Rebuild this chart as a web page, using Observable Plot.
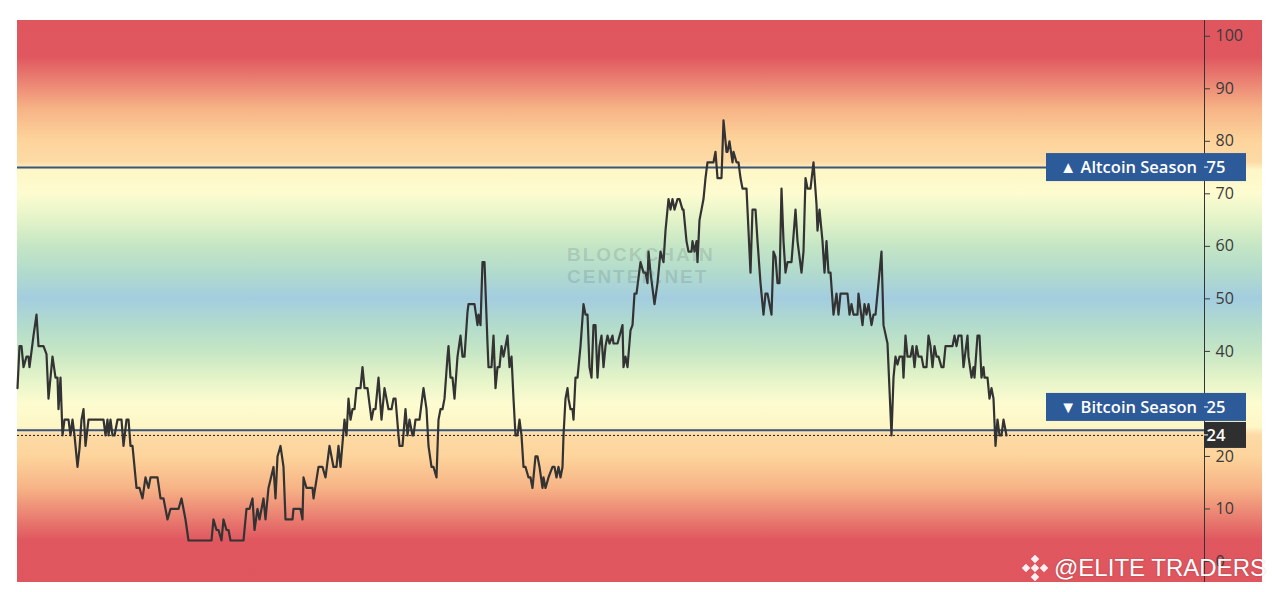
<!DOCTYPE html>
<html>
<head>
<meta charset="utf-8">
<script src="https://cdn.jsdelivr.net/npm/d3@7"></script>
<script src="https://cdn.jsdelivr.net/npm/@observablehq/plot@0.6"></script>
<style>
  html, body { margin: 0; padding: 0; background: #fff; }
  #wrap { position: relative; width: 1272px; height: 592px; overflow: hidden; }
  .wm { position: absolute; left: 567px; font: 700 19px "Liberation Sans", Arial, sans-serif; color: rgba(80, 100, 105, 0.2); line-height: 20px; letter-spacing: 2px; pointer-events: none; white-space: nowrap; }
  #elite { position: absolute; left: 1020px; top: 553px; display: flex; align-items: center; white-space: nowrap; pointer-events: none; }
  #elite span { font: 400 24px "Liberation Sans", Arial, sans-serif; color: #fff; text-shadow: 0 0 2px rgba(0,0,0,0.25); margin-left: 4px; }
</style>
</head>
<body>
<div id="wrap">
  <div id="chart"></div>
  <div class="wm" style="top:245px">BLOCKCHAIN</div>
  <div class="wm" style="top:267px">CENTER.NET</div>
  <div id="elite">
    <svg width="30" height="30" viewBox="0 0 30 30">
      <g fill="#fff" opacity="0.92">
        <rect x="12" y="12" width="6" height="6" transform="rotate(45 15 15)"/>
        <rect x="12" y="3" width="6" height="6" transform="rotate(45 15 6)"/>
        <rect x="12" y="21" width="6" height="6" transform="rotate(45 15 24)"/>
        <rect x="3" y="12" width="6" height="6" transform="rotate(45 6 15)"/>
        <rect x="21" y="12" width="6" height="6" transform="rotate(45 24 15)"/>
      </g>
    </svg>
    <span>@ELITE TRADERS</span>
  </div>
</div>
<script>
// Altcoin season index readings: [day index, value]
const readings = [
[0,33],[1,41],[2,41],[3,37],[4.5,39],[5.5,39],[6,37],[7.5,41.5],[8,43],[9.5,47],
[10.5,41],[13,41],[14.5,39.5],[15.5,31],[17.5,39],[19,35],[20,35],[20.5,29],[21.5,35],[22.5,24],
[23.5,27],[25.5,27],[26.5,24],[27.5,27],[28.5,24],[30,18],[31,21.5],[32,27],[33,29],[34,22],
[35.5,27],[43,27],[44,24],[45,27],[45.5,24],[46.5,27],[47.5,24],[48.5,24],[50,27],[52,27],
[53,22],[54.5,27],[55.5,27],[56.5,22],[57.5,22],[59.5,14],[61,14],[62.5,12],[64,16],[65.5,14],
[66.5,16],[70,16],[71.5,12],[73,12],[75,8],[76.5,10],[80.5,10],[82,12],[83,10],[84,8],
[85.5,4],[97,4],[98,8],[99.5,6],[100.5,6],[102,4],[103,8],[104.5,6],[105.5,6],[106.5,4],
[113,4],[114.5,10],[116,10],[117.5,12],[118.5,6],[120,10],[121,8],[123,12],[124,8],[125.5,14],
[128,18],[129,12],[130,20],[131.5,22],[133,18],[134,8],[137.5,8],[138,10],[141.5,10],[142.5,8],
[143,16],[144.5,14],[147.5,14],[148,12],[150.5,18],[152.5,18],[154,16],[156,22],[158,18],[159.5,18],
[160.5,22],[161.5,18],[163.5,27],[164.5,24],[165.5,31],[166.5,27],[167.5,29],[168.5,29],[169.5,33],[171.5,33],
[172.5,37],[173.5,33],[175,33],[177,27],[178,29],[179,29],[180.5,35],[182,27],[183.5,33],[185.5,29],
[187,29],[188,31],[189,31],[190.5,24],[191,22],[192.5,22],[194,29],[195,24],[196,27],[197.5,24],
[198,24],[199,27],[201,27],[203,33],[204.5,29],[205.5,22],[207,18],[208,18],[209.5,16],[210.5,27],
[211.5,29],[212.5,29],[213.5,31],[215,39],[215.5,41],[216.5,35],[217.5,35],[218.5,31],[220,39],[221.5,43],
[222.5,39],[223.5,39],[225,47.5],[225.5,49],[228.5,49],[230,45],[230.5,47],[231.5,45],[232.5,57],[233.5,57],
[235,41.5],[235.5,37],[237,37],[238,43],[239,33],[240,37],[241,37],[242,41],[243,39],[244,41],
[245,43],[246,37],[247,39],[248,31],[249,24],[250,24],[251,27],[252,24],[253,18],[254,18],
[255.5,16],[256.5,16],[257.5,14],[259,20],[260,20],[261,18],[262.5,14],[263,16],[264,14],[265.5,16],
[267.5,18],[268.5,18],[269.5,16],[270.5,18],[271.5,16],[272.5,18],[273,24],[274,31],[275,33],[275.5,31],
[276.5,29],[277.5,29],[278,27],[279,35],[280,35],[281.5,41],[283,49],[284,47],[285,47],[286,37],
[287,35],[288,45],[289,45],[290,35],[291,41],[292,43],[293,37],[294,41],[295,43],[296,41.5],
[297.5,43],[298,41.5],[300,41.5],[302.5,45],[303,37],[304,39],[305,37],[306.5,44],[307.5,45],[308.5,51],
[309.5,51],[311.5,57],[313,55],[314,55],[315,53],[315.5,59],[316.5,55],[318.5,49],[320,53],[321.5,59],
[323,57],[324,63],[325.5,69],[326.5,67],[327.5,69],[328.5,67],[330,69],[331,69],[332.5,67],[333,67],
[334.5,61],[335.5,59],[337,59],[337.5,61],[338.5,59],[339.5,61],[340,57],[341,65],[343,69],[344,73],
[345,76],[348,76],[349,78],[350,73],[352,73],[353,84],[354.5,78],[355,78],[356,80],[357.5,76],
[358,78],[359.5,76],[360.5,76],[361.5,73],[362.5,71],[364.5,71],[366.5,55],[367.5,67],[369,67],[370,61],
[371.5,53],[373,47],[374,51],[375,51],[377,47],[378,59],[379,58],[380,53],[381,53],[382,71],
[383,61],[384,55],[385,57],[387,57],[389,67],[390,61],[392,55],[393,59],[394,73],[395,71],
[396.5,71],[398,76],[399.5,68],[400,63],[401,67],[402.5,61],[403.5,55],[404.5,61],[405.5,55],[406.5,55],
[408,47],[409.5,51],[410.5,47],[411.5,51],[415,51],[416,47],[417,49],[418,47],[420,47],[420.5,51],
[422.5,45],[423.5,49],[424.5,47],[425.5,49],[427,45],[428,47],[429,47],[432,59],[433,45],[435,41.5],
[437,24],[438,35],[439,39],[440,37.5],[441,39],[442.5,39],[443,35],[444,43],[445,39],[446.5,39],
[447.5,41],[448.5,37],[449.5,41],[450.5,39],[452,39],[453,37],[454.5,37],[455.5,43],[456.5,41],[457.5,37],
[458.5,41],[459.5,39],[460.5,39],[462,37],[463,37],[464,41],[467.5,41],[468.5,43],[469.5,41],[470.5,43],
[472,43],[473,37],[475,43],[475.5,39],[477,35],[478,37],[478.5,35],[480,43],[481,43],[482,35],
[483,37],[483.5,35],[485,35],[486,31],[487,33],[488,31],[489,22],[490,27],[491,24],[492,24],
[493,27],[494.5,24]
];

const dayDomain = [0, 593.5];
const valueDomain = [-4, 103];
const yTicks = [0, 10, 20, 30, 40, 50, 60, 70, 80, 90, 100];
const seasonLevels = [75, 25];
const seasonLabels = ["▲ Altcoin Season", "▼ Bitcoin Season"];
const currentValue = 24;

// background colour band: index value -> colour
const gradientLevels = [103, 96, 91, 86, 80, 76, 74.5, 70, 65, 60, 55, 50, 45, 40, 35, 30, 25.5, 24, 20, 14, 9, 4, -4];
const gradientColors = ["#e0565f", "#e0575f", "#eb8574", "#f7b486", "#fdd49c", "#fddaa5", "#fef6c6", "#fdfcd0", "#e3f3c8", "#c5e6c5", "#b2dbcd", "#a3cddf", "#b2dbcd", "#c5e6c5", "#e3f3c8", "#fdfcd0", "#fef6c6", "#fddaa5", "#fdd49c", "#f7b486", "#eb8574", "#e0575f", "#e0565f"];

const FONT = '"Open Sans", "Noto Sans", sans-serif';
const W = 1272, H = 592, MT = 20, MB = 10, ML = 17, MR = 68;
const CUR_H = 26, BOX_H = 28;
const data = readings.map(([day, value]) => ({day, value}));

const yScale = Plot.scale({y: {domain: valueDomain, range: [H - MB, MT]}});

// pixel centre of each season box (shifted up when it would collide with the current-value box)
function boxCenter(level) {
  const cy0 = yScale.apply(currentValue);
  let cy = yScale.apply(level);
  if (Math.abs(cy - cy0) < (CUR_H + BOX_H) / 2) cy = cy0 - CUR_H / 2 - BOX_H / 2 - 1;
  return cy;
}
// ticks hidden behind the label boxes are not drawn
const visibleTicks = yTicks.filter(t => {
  const ty = yScale.apply(t);
  return seasonLevels.every(l => Math.abs(ty - boxCenter(l)) > BOX_H / 2 + 2);
});

function background(index, scales, values, dims) {
  const y = scales.y;
  const x0 = dims.marginLeft, x1 = dims.width - 10;
  const yTop = y(gradientLevels[0]);
  const yBot = y(gradientLevels[gradientLevels.length - 1]);
  const g = d3.create("svg:g");
  const grad = g.append("defs").append("linearGradient")
    .attr("id", "bgGrad").attr("gradientUnits", "userSpaceOnUse")
    .attr("x1", 0).attr("x2", 0).attr("y1", yTop).attr("y2", yBot);
  gradientLevels.forEach((v, i) => {
    grad.append("stop").attr("offset", (y(v) - yTop) / (yBot - yTop)).attr("stop-color", gradientColors[i]);
  });
  g.append("rect").attr("x", x0).attr("y", yTop).attr("width", x1 - x0).attr("height", yBot - yTop).attr("fill", "url(#bgGrad)");
  return g.node();
}

function labels(index, scales, values, dims) {
  const y = scales.y;
  const R = dims.width - dims.marginRight;
  const g = d3.create("svg:g").attr("font-family", FONT).attr("font-size", 16.5);
  g.append("line").attr("x1", R + 0.5).attr("x2", R + 0.5)
    .attr("y1", dims.marginTop).attr("y2", dims.height - dims.marginBottom)
    .attr("stroke", "#333").attr("stroke-width", 1);
  const cy0 = y(currentValue);
  seasonLevels.forEach((lv, i) => {
    const cy = boxCenter(lv);
    g.append("rect").attr("x", R - 158).attr("y", cy - BOX_H / 2).attr("width", 200).attr("height", BOX_H).attr("fill", "#2d5a98");
    g.append("line").attr("x1", R).attr("x2", R + 4).attr("y1", cy).attr("y2", cy).attr("stroke", "#fff");
    g.append("text").attr("x", R - 7).attr("y", cy).attr("dy", "0.35em").attr("text-anchor", "end")
      .attr("fill", "#fff").attr("font-weight", 600).text(seasonLabels[i]);
    g.append("text").attr("x", R + 12).attr("y", cy).attr("dy", "0.35em")
      .attr("fill", "#fff").attr("font-weight", 600).text(lv);
  });
  g.append("rect").attr("x", R).attr("y", cy0 - CUR_H / 2).attr("width", 42).attr("height", CUR_H).attr("fill", "#2f2f2f");
  g.append("line").attr("x1", R).attr("x2", R + 4).attr("y1", cy0).attr("y2", cy0).attr("stroke", "#fff");
  g.append("text").attr("x", R + 12).attr("y", cy0).attr("dy", "0.35em")
    .attr("fill", "#fff").attr("font-weight", 600).text(currentValue);
  return g.node();
}

const chart = Plot.plot({
  width: W,
  height: H,
  marginLeft: ML,
  marginRight: MR,
  marginTop: MT,
  marginBottom: MB,
  style: {fontFamily: FONT, fontSize: "16px", background: "transparent", color: "#333"},
  x: {domain: dayDomain, axis: null},
  y: {domain: valueDomain, axis: null},
  marks: [
    background,
    Plot.ruleY([currentValue], {stroke: "#222", strokeWidth: 1, strokeDasharray: "2,2"}),
    Plot.ruleY(seasonLevels, {stroke: "#3a5578", strokeWidth: 2}),
    Plot.line(data, {x: "day", y: "value", stroke: "#333", strokeWidth: 2.2, strokeLinejoin: "round"}),
    Plot.axisY(visibleTicks, {anchor: "right", tickSize: 5, tickPadding: 6, label: null, color: "#3a3a3a", fontSize: 16}),
    labels
  ]
});
document.getElementById("chart").appendChild(chart);
</script>
</body>
</html>
